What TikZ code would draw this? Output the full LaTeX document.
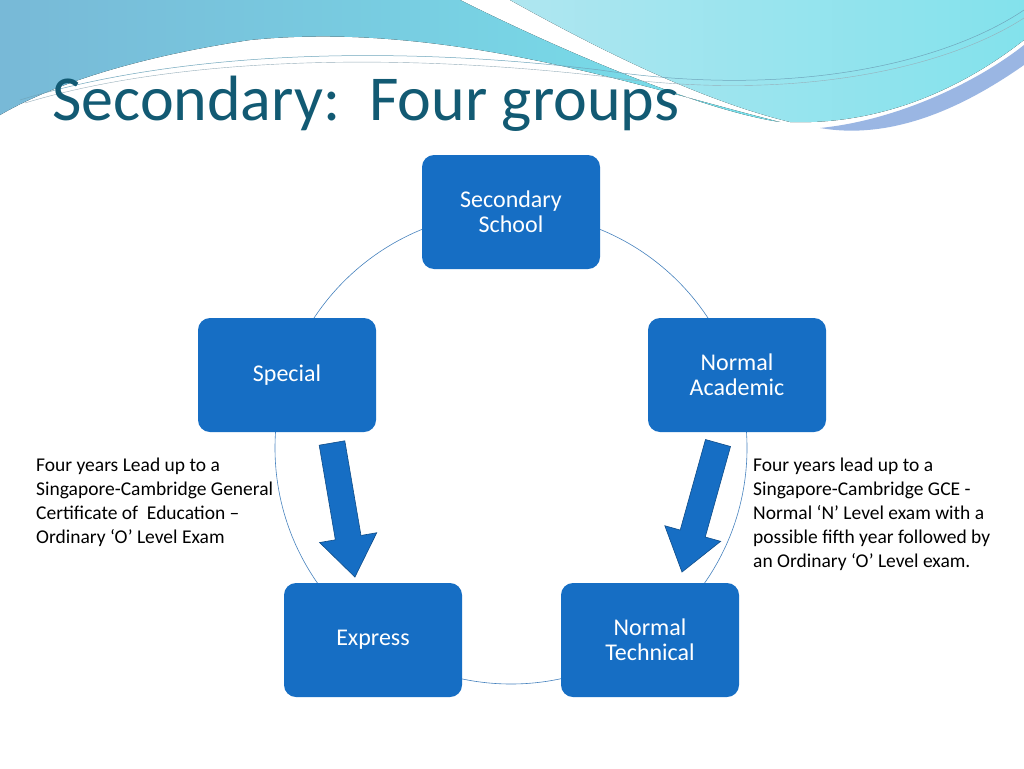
\documentclass[tikz,border=0pt]{standalone}
\usepackage{fontspec}
\setmainfont{Carlito}
\begin{document}
\begin{tikzpicture}[x=1pt,y=-1pt,
  box/.style={draw=none,fill=boxblue,rounded corners=12pt,minimum width=178pt,minimum height=114pt,text=white,align=center,font=\fontsize{24}{25}\selectfont},
  note/.style={anchor=north west,align=left,font=\fontsize{19.5}{24}\selectfont,inner sep=0pt},
  barrow/.style={fill=boxblue,draw=boxblue!70!black,line width=0.6pt}]
\definecolor{boxblue}{RGB}{22,110,196}
\definecolor{ring}{RGB}{70,130,190}
\definecolor{titlec}{RGB}{18,90,115}
\definecolor{waveA}{RGB}{120,185,215}
\definecolor{waveB}{RGB}{120,225,235}
\definecolor{waveC}{RGB}{175,230,240}
\useasboundingbox (0,0) rectangle (1024,768);
\fill[white] (0,0) rectangle (1024,768);
% background waves
\fill[left color=waveA, right color=waveB] (0,0) -- (460,0) .. controls (560,50) and (700,110) .. (780,122) .. controls (650,90) and (450,20) .. (250,40) .. controls (150,55) and (60,80) .. (0,115) -- cycle;
\fill[left color=waveC, right color=waveB!80!waveC] (510,0) -- (1024,0) -- (1024,40) .. controls (960,90) and (880,125) .. (790,122) .. controls (700,100) and (600,50) .. (510,0) -- cycle;
\fill[cyan!50!blue!40] (820,128) .. controls (900,120) and (980,80) .. (1024,45) -- (1024,65) .. controls (960,110) and (890,140) .. (820,128) -- cycle;
\draw[cyan!60!black!70,line width=0.5pt] (20,100) .. controls (150,60) and (350,40) .. (600,70) .. controls (800,100) and (950,60) .. (1024,10);
\draw[cyan!40!black!50,line width=0.4pt] (25,103) .. controls (150,65) and (350,48) .. (600,76) .. controls (800,104) and (950,66) .. (1024,18);
\node[anchor=base west,text=titlec,font=\fontsize{64}{70}\selectfont,inner sep=0pt] (title) at (52,120) {Secondary:\ \ Four groups};
% ring
\draw[ring,line width=0.6pt] (511,448) circle (236);
\node[box] (ss) at (511,212) {Secondary\\School};
\node[box] (na) at (737,375) {Normal\\Academic};
\node[box] (nt) at (650,640) {Normal\\Technical};
\node[box] (ex) at (373,640) {Express};
\node[box] (sp) at (287,375) {Special};
% block arrows
\begin{scope}[shift={(332,443)},rotate=-80.3]
\path[barrow] (0pt,13pt) -- (96pt,13pt) -- (96pt,29pt) -- (136pt,0pt) -- (96pt,-29pt) -- (96pt,-13pt) -- (0pt,-13pt) -- cycle;
\end{scope}
\begin{scope}[shift={(718,443)},rotate=-105.6]
\path[barrow] (0pt,13pt) -- (94pt,13pt) -- (94pt,29pt) -- (134pt,0pt) -- (94pt,-29pt) -- (94pt,-13pt) -- (0pt,-13pt) -- cycle;
\end{scope}
\node[note] (n1) at (36,458) {Four years Lead up to a\\Singapore-Cambridge General\\Certificate of\ \ Education –\\Ordinary ‘O’ Level Exam};
\node[note] (n2) at (753,458) {Four years lead up to a\\Singapore-Cambridge GCE -\\Normal ‘N’ Level exam with a\\possible fifth year followed by\\an Ordinary ‘O’ Level exam.};
\end{tikzpicture}
\end{document}
